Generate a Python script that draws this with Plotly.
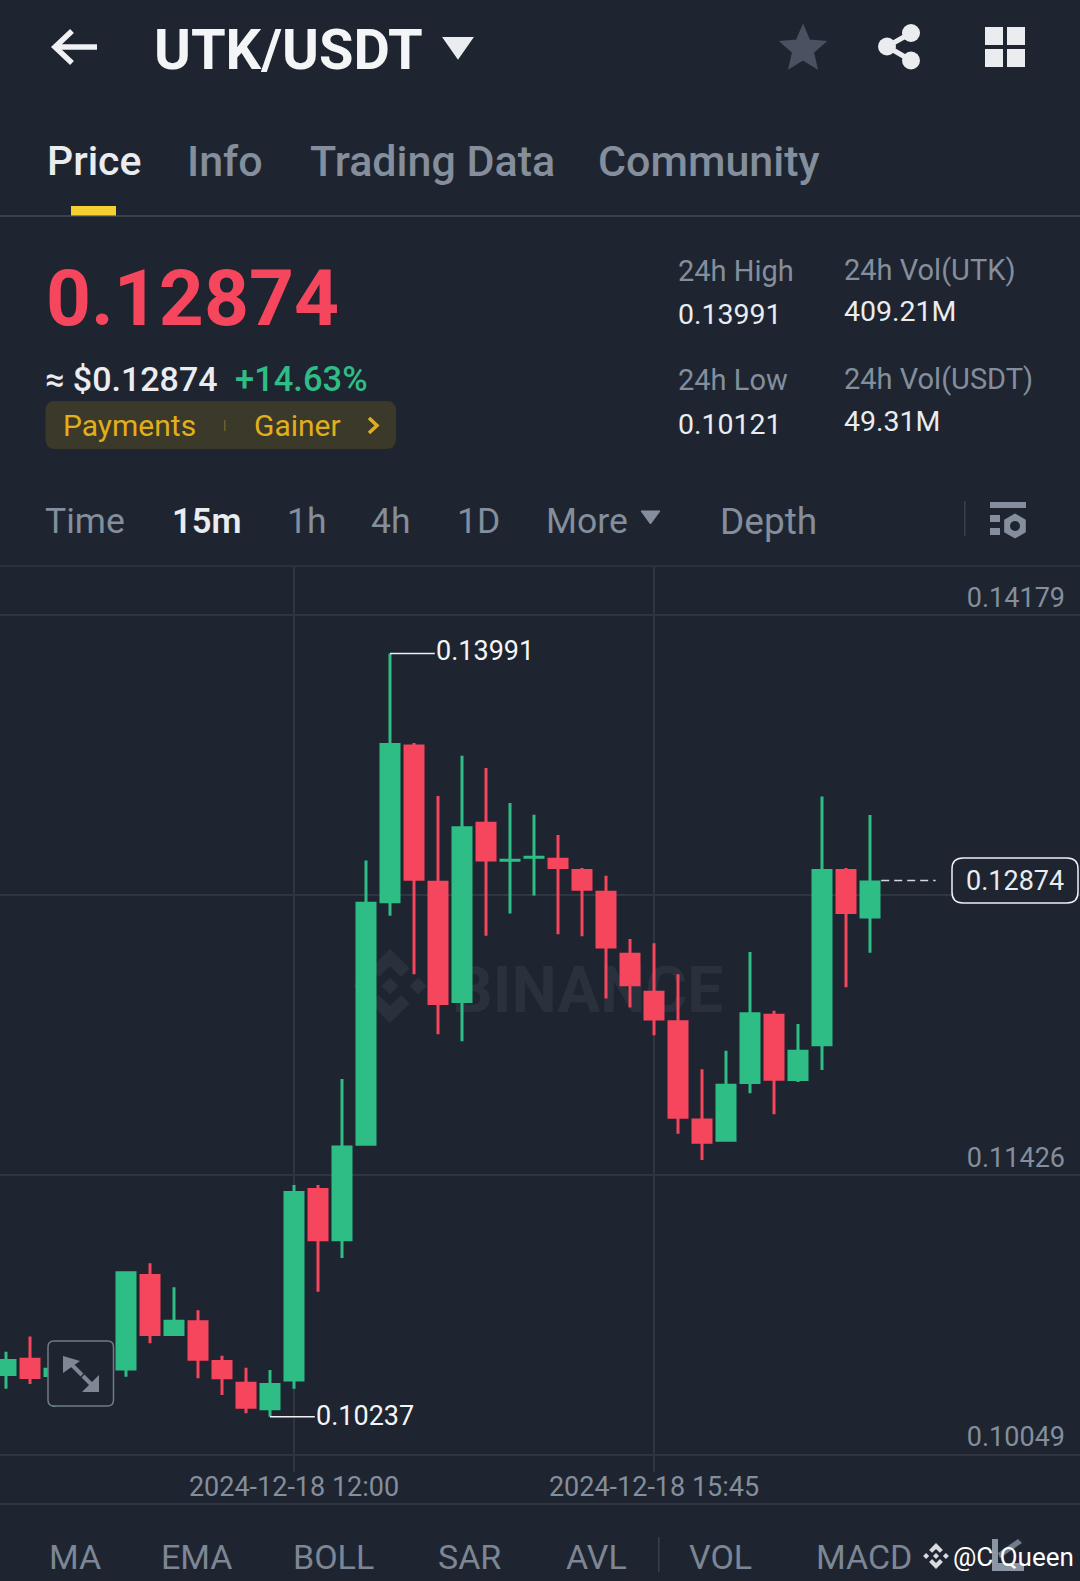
import math

import pandas as pd
import plotly.graph_objects as go

W = 1080
H = 1581

BG = "#1e2530"
GRID = "#30363f"
MUTED = "#848e9c"
LIGHT = "#eaecef"
GREEN = "#2ebd85"
RED = "#f6465d"
GOLD = "#e3ae1c"
FONT = "Roboto"

times = pd.date_range("2024-12-18 09:00", periods=37, freq="15min")

opens = [0.10438, 0.10526, 0.10433, 0.10492, 0.10428, 0.10464, 0.10938, 0.10634, 0.10711,
         0.10515, 0.10408, 0.10269, 0.10410, 0.11362, 0.11100, 0.11570, 0.12763, 0.13543,
         0.12873, 0.12272, 0.13163, 0.12968, 0.12983, 0.12986, 0.12930, 0.12824, 0.12518,
         0.12331, 0.12186, 0.11703, 0.11590, 0.11874, 0.12218, 0.11888, 0.12059, 0.12931,
         0.12688]
highs = [0.10556, 0.10631, 0.10516, 0.10541, 0.10565, 0.10952, 0.10992, 0.10874, 0.10761,
         0.10537, 0.10478, 0.10467, 0.11377, 0.11377, 0.11898, 0.12972, 0.13991, 0.13550,
         0.13290, 0.13488, 0.13427, 0.13256, 0.13198, 0.13098, 0.12936, 0.12898, 0.12587,
         0.12566, 0.12413, 0.11946, 0.12037, 0.12523, 0.12234, 0.12169, 0.13288, 0.12936,
         0.13197]
lows = [0.10375, 0.10398, 0.10285, 0.10393, 0.10393, 0.10434, 0.10598, 0.10634, 0.10426,
        0.10344, 0.10254, 0.10237, 0.10374, 0.10852, 0.11018, 0.11570, 0.12701, 0.12413,
        0.12118, 0.12083, 0.12603, 0.12712, 0.12800, 0.12610, 0.12600, 0.12294, 0.12250,
        0.12113, 0.11629, 0.11500, 0.11590, 0.11828, 0.11725, 0.11883, 0.11942, 0.12349,
        0.12519]
closes = [0.10520, 0.10423, 0.10477, 0.10442, 0.10516, 0.10952, 0.10634, 0.10713, 0.10513,
          0.10421, 0.10277, 0.10402, 0.11347, 0.11100, 0.11570, 0.12769, 0.13550, 0.12873,
          0.12262, 0.13141, 0.12968, 0.12980, 0.12995, 0.12931, 0.12824, 0.12540, 0.12354,
          0.12186, 0.11703, 0.11580, 0.11874, 0.12226, 0.11890, 0.12041, 0.12931, 0.12710,
          0.12874]

price_ticks = [0.10049, 0.11426, 0.12803, 0.14179]
price_tick_text = ["0.10049", "0.11426", "", "0.14179"]
time_ticks = ["2024-12-18 12:00", "2024-12-18 15:45"]
time_tick_text = ["2024-12-18 12:00", "2024-12-18 15:45"]

tabs = [("Price", 46, LIGHT, 41), ("Info", 186, MUTED, 43), ("Trading Data", 309, MUTED, 43), ("Community", 597, MUTED, 43)]
intervals = [("Time", 44, 35.5), ("1h", 286, 35.5), ("4h", 370, 35.5), ("1D", 456, 35.5), ("More", 545, 35.5), ("Depth", 719, 37)]
indicators = [("MA", 48), ("EMA", 160), ("BOLL", 292), ("SAR", 437), ("AVL", 565), ("VOL", 688), ("MACD", 815)]
stats = [
    ("24h High", "0.13991", 677, 271, 314),
    ("24h Vol(UTK)", "409.21M", 843, 270, 311),
    ("24h Low", "0.10121", 677, 380, 424),
    ("24h Vol(USDT)", "49.31M", 843, 379, 421),
]

annotations = []
shapes = []


def fx(x):
    return x / W


def fy(y):
    return 1 - y / H


def add_text(x, y, text, size, color, weight=400, anchor="left", font=FONT):
    annotations.append(dict(
        x=fx(x), y=fy(y), xref="paper", yref="paper", text=text, showarrow=False,
        xanchor=anchor, yanchor="middle", borderpad=0,
        font=dict(family=font, size=size, color=color, weight=weight),
    ))


def add_path(points, fill=None, line=None, width=0, closed=True, layer="above"):
    path = "M" + " L".join(f"{fx(x):.5f},{fy(y):.5f}" for x, y in points)
    if closed:
        path += " Z"
    shapes.append(dict(
        type="path", path=path, xref="paper", yref="paper", layer=layer,
        fillcolor=fill if fill else "rgba(0,0,0,0)",
        line=dict(color=line if line else "rgba(0,0,0,0)", width=width),
    ))


def add_rect(x0, y0, x1, y1, fill):
    add_path([(x0, y0), (x1, y0), (x1, y1), (x0, y1)], fill=fill)


def add_round_rect(x0, y0, x1, y1, r, fill, line=None, width=0):
    p = lambda x, y: f"{fx(x):.5f},{fy(y):.5f}"
    path = (
        f"M{p(x0 + r, y0)} L{p(x1 - r, y0)} Q{p(x1, y0)} {p(x1, y0 + r)} "
        f"L{p(x1, y1 - r)} Q{p(x1, y1)} {p(x1 - r, y1)} "
        f"L{p(x0 + r, y1)} Q{p(x0, y1)} {p(x0, y1 - r)} "
        f"L{p(x0, y0 + r)} Q{p(x0, y0)} {p(x0 + r, y0)} Z"
    )
    shapes.append(dict(
        type="path", path=path, xref="paper", yref="paper", fillcolor=fill,
        line=dict(color=line if line else "rgba(0,0,0,0)", width=width),
    ))


def add_circle(cx, cy, r, fill):
    shapes.append(dict(
        type="circle", xref="paper", yref="paper", fillcolor=fill, line=dict(width=0),
        x0=fx(cx - r), x1=fx(cx + r), y0=fy(cy + r), y1=fy(cy - r),
    ))


def add_logo(cx, cy, r, fill, layer="above"):
    # the exchange's diamond mark: two chevrons and three small diamonds
    chevron = [(0, -1), (0.53, -0.47), (0.3, -0.24), (0, -0.54), (-0.3, -0.24), (-0.53, -0.47)]
    add_path([(cx + a * r, cy + b * r) for a, b in chevron], fill=fill, layer=layer)
    add_path([(cx + a * r, cy - b * r) for a, b in chevron], fill=fill, layer=layer)
    for dx in (-0.76, 0, 0.76):
        small = [(0, -0.23), (0.23, 0), (0, 0.23), (-0.23, 0)]
        add_path([(cx + (a + dx) * r, cy + b * r) for a, b in small], fill=fill, layer=layer)


def build_header():
    # back arrow, pair name, icons
    add_path([(54, 47), (97, 47)], line="#f0f1f3", width=5.5, closed=False)
    add_path([(72, 31), (55, 47), (72, 63)], line="#f0f1f3", width=5.5, closed=False)
    add_text(153, 50, "UTK/USDT", 56, "#f4f5f6", 700)
    add_path([(444, 38), (472, 38), (458, 58)], fill=LIGHT, line=LIGHT, width=2)

    star = []
    for i in range(10):
        r = 23 if i % 2 == 0 else 10.5
        a = -math.pi / 2 + i * math.pi / 5
        star.append((803 + r * math.cos(a), 49 + r * math.sin(a)))
    add_path(star, fill="#4a5160", line="#4a5160", width=2)

    add_path([(911, 33), (887, 46.5), (911, 60.5)], line=LIGHT, width=5, closed=False)
    add_circle(911, 33, 9, LIGHT)
    add_circle(887, 46.5, 9, LIGHT)
    add_circle(911, 60.5, 9, LIGHT)

    add_rect(985, 27, 1003, 45, LIGHT)
    add_rect(1007, 27, 1025, 45, LIGHT)
    add_rect(985, 49, 1003, 67, LIGHT)
    add_rect(1007, 49, 1025, 67, LIGHT)

    for label, x, color, size in tabs:
        add_text(x, 161, label, size, color, 500)
    add_rect(0, 215, W, 217, "#3a4049")
    add_rect(71, 206, 116, 215.5, "#f5d033")


def build_summary():
    add_text(45, 298, "0.12874", 78.5, RED, 700)
    add_text(44, 379, "≈ $0.12874", 34, LIGHT, 500)
    add_text(234, 379, "+14.63%", 34.5, GREEN, 500)

    add_round_rect(45.5, 401, 396, 449, 10, "#3b3929")
    add_text(62, 425, "Payments", 30, GOLD)
    add_rect(224, 420, 225.5, 431, "#6b6030")
    add_text(253, 425, "Gainer", 30, GOLD)
    add_path([(369, 418), (377, 425.5), (369, 433)], line=GOLD, width=3.5, closed=False)

    for label, value, x, y_label, y_value in stats:
        add_text(x, y_label, label, 29, MUTED)
        add_text(x, y_value, value, 28.5, LIGHT)


def build_interval_row():
    for label, x, size in intervals:
        add_text(x, 521, label, size, MUTED)
    add_text(170.5, 521, "15m", 34.5, LIGHT, 600)
    add_path([(641, 511), (660, 511), (650.5, 524)], fill=MUTED, line=MUTED, width=1)
    add_rect(964, 501, 965.5, 536, "#3a4049")

    add_rect(990, 502, 1026, 508, MUTED)
    add_rect(990, 515, 1000, 522, MUTED)
    add_rect(990, 528, 1000, 535, MUTED)
    hexagon = [(1015 + 12.5 * math.cos(math.pi / 6 + i * math.pi / 3),
                526 + 12.5 * math.sin(math.pi / 6 + i * math.pi / 3)) for i in range(6)]
    add_path(hexagon, fill=MUTED)
    add_circle(1015, 526, 5, BG)
    add_rect(0, 565, W, 567, "#2c323b")


def build_chart_overlays():
    # watermark sits under the candles
    add_logo(390, 986, 37, "#2b313c", layer="below")
    shapes.append(dict(
        type="rect", xref="paper", yref="paper", layer="below",
        x0=fx(440), x1=fx(735), y0=fy(1015), y1=fy(955),
        line=dict(width=0), fillcolor="rgba(0,0,0,0)",
        label=dict(text="BINANCE", textposition="middle center",
                   font=dict(family=FONT, size=64, color="#2b313c", weight=700)),
    ))

    # expand button
    add_round_rect(48, 1341, 113.5, 1406, 6, BG, line="#727a88", width=1.5)
    add_path([(63, 1356), (63, 1373), (80, 1361)], fill="#7f8794")
    add_path([(70, 1363), (82, 1375)], line="#7f8794", width=4, closed=False)
    add_path([(99, 1392), (99, 1375), (82, 1392)], fill="#7f8794")
    add_path([(92, 1385), (83, 1376)], line="#7f8794", width=4, closed=False)

    # last price box
    add_round_rect(952, 858, 1078, 903, 11, BG, line="#eef0f2", width=1.5)
    add_text(1015, 881, f"{closes[-1]:.5f}", 27, LIGHT, anchor="center")


def build_footer():
    add_rect(0, 1503, W, 1505, "#30363f")
    for label, x in indicators:
        add_text(x, 1557, label, 34, "#7d8694")
    add_rect(658, 1537, 659.5, 1572, "#3a4049")

    # photo watermark at the corner
    add_path([(992, 1539), (998, 1539), (998, 1563), (1024, 1563), (1024, 1571), (992, 1571)], fill="#8b95a3")
    add_path([(998, 1553), (1018, 1539), (1022, 1543), (1000, 1558)], fill="#717b8a")
    add_logo(936, 1556, 13, "#d9dbdf")
    add_text(952, 1557, "@C Queen", 26, "#ffffff")


def body_edges():
    # the values are outer edges of each body, the 3px outline adds 1.5px on either end
    inset = 0.00007
    tiny = 0.000001
    drawn_open, drawn_close = [], []
    for o, c in zip(opens, closes):
        if abs(o - c) <= 2 * inset:
            # thin bodies keep their direction so the colour stays right
            mid = (o + c) / 2
            drawn_open.append(mid)
            drawn_close.append(mid + tiny if c > o else mid - tiny)
        elif c > o:
            drawn_open.append(o + inset)
            drawn_close.append(c - inset)
        else:
            drawn_open.append(o - inset)
            drawn_close.append(c + inset)
    return drawn_open, drawn_close


build_header()
build_summary()
build_interval_row()
build_chart_overlays()
build_footer()

fig = go.Figure()

drawn_open, drawn_close = body_edges()
fig.add_trace(go.Candlestick(
    x=times, open=drawn_open, high=highs, low=lows, close=drawn_close,
    increasing=dict(line=dict(color=GREEN, width=3), fillcolor=GREEN),
    decreasing=dict(line=dict(color=RED, width=3), fillcolor=RED),
    whiskerwidth=0, hoverinfo="skip", showlegend=False,
))

# high / low callouts and the dashed last price line
high_i = highs.index(max(highs))
low_i = lows.index(min(lows))
fig.add_trace(go.Scatter(
    x=[times[high_i], times[high_i] + pd.Timedelta(minutes=28)], y=[highs[high_i]] * 2,
    mode="lines", line=dict(color="#f0f1f3", width=1.5), hoverinfo="skip", showlegend=False,
))
fig.add_trace(go.Scatter(
    x=[times[low_i], times[low_i] + pd.Timedelta(minutes=28)], y=[lows[low_i]] * 2,
    mode="lines", line=dict(color="#f0f1f3", width=1.5), hoverinfo="skip", showlegend=False,
))
fig.add_trace(go.Scatter(
    x=[times[-1] + pd.Timedelta(minutes=7), times[-1] + pd.Timedelta(minutes=41)], y=[closes[-1]] * 2,
    mode="lines", line=dict(color="#d5d8dc", width=1.5, dash="8px,5px"), hoverinfo="skip", showlegend=False,
))
annotations.append(dict(
    x=times[high_i] + pd.Timedelta(minutes=28), y=highs[high_i], text=f"{highs[high_i]:.5f}",
    showarrow=False, xanchor="left", yanchor="middle", borderpad=0, yshift=2,
    font=dict(family=FONT, size=27, color="#f4f5f6"),
))
annotations.append(dict(
    x=times[low_i] + pd.Timedelta(minutes=28), y=lows[low_i], text=f"{lows[low_i]:.5f}",
    showarrow=False, xanchor="left", yanchor="middle", borderpad=0, yshift=1,
    font=dict(family=FONT, size=27, color="#f4f5f6"),
))

fig.update_xaxes(
    type="date", domain=[0, 1],
    range=["2024-12-18 08:56:15", "2024-12-18 20:11:15"],
    tickmode="array", tickvals=time_ticks, ticktext=time_tick_text,
    tickfont=dict(family=FONT, size=27, color=MUTED),
    showgrid=True, gridcolor=GRID, gridwidth=1.5, zeroline=False, showline=False,
    ticks="", ticklabelstandoff=-4, rangeslider=dict(visible=False), fixedrange=True,
)
fig.update_yaxes(
    domain=[fy(1472), fy(565)], side="right", anchor="free", position=fx(1068),
    range=[0.09965, 0.14426],
    tickmode="array", tickvals=price_ticks, ticktext=price_tick_text,
    ticklabelposition="inside top", ticklabelshift=1, ticks="",
    tickfont=dict(family=FONT, size=27, color=MUTED),
    showgrid=True, gridcolor=GRID, gridwidth=1.5, zeroline=False, showline=False, fixedrange=True,
)

fig.update_layout(
    width=W, height=H,
    margin=dict(l=0, r=0, t=0, b=0),
    paper_bgcolor=BG, plot_bgcolor="rgba(0,0,0,0)",
    boxgap=0.25, boxgroupgap=0, showlegend=False,
    annotations=annotations, shapes=shapes,
)

fig.write_html(
    "out.html",
    config={"displayModeBar": False},
    post_script="document.body.style.margin='0';document.body.style.overflow='hidden';",
)
